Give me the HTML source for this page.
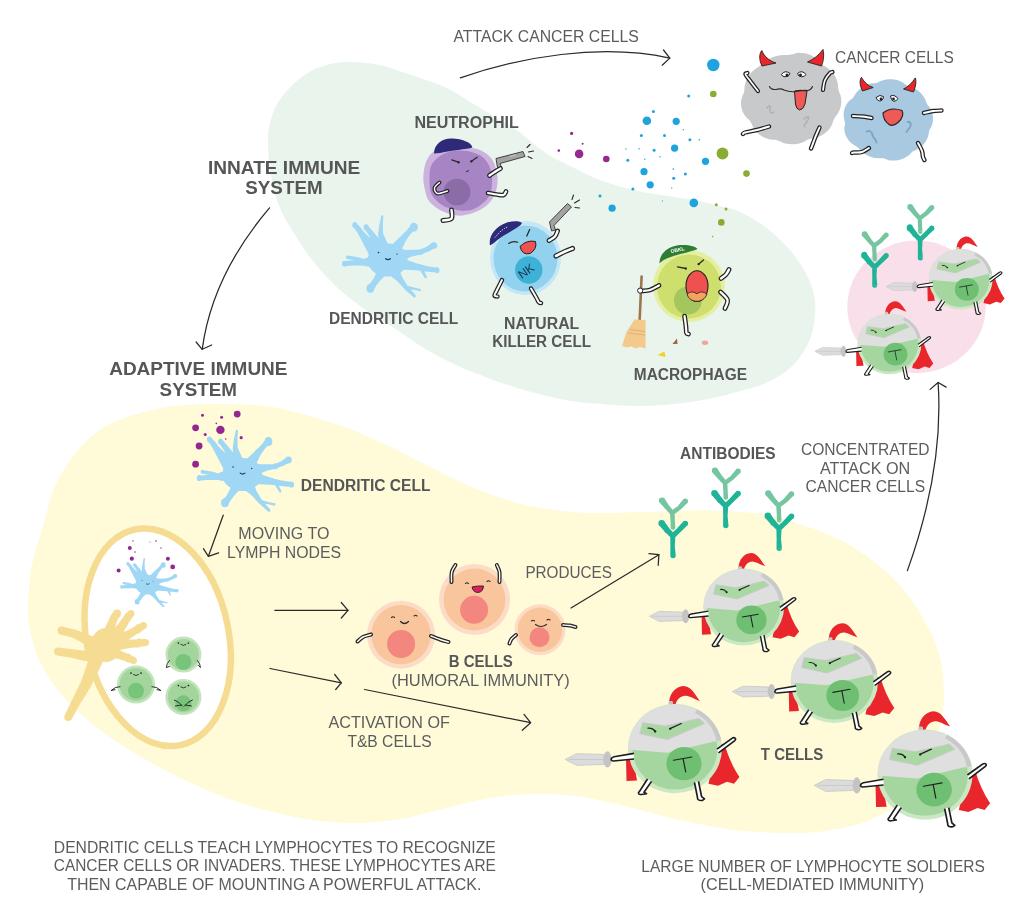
<!DOCTYPE html>
<html><head><meta charset="utf-8"><style>
html,body{margin:0;padding:0;background:#fff;}
svg{display:block;will-change:transform;}
text{font-family:"Liberation Sans",sans-serif;}
</style></head><body>
<svg width="1024" height="922" viewBox="0 0 1024 922">
<defs><g id="dend"><path d="M-6.2,-11.7L-14.2,-19.2L-22.3,-13L-17.4,-3.3ZM-14.2,-19.2L-22,-26.7L-27.4,-22.7L-22.3,-13ZM-21.9,-26.5L-26.8,-32.6L-31.2,-29.7L-27.5,-22.9ZM-27,-32.9L-30.9,-37.1L-34.6,-33.8L-31,-29.4ZM-18.8,-7.5a7,7 0 1,0 14,0a7,7 0 1,0 -14,0ZM-23.4,-16.1a5.1,5.1 0 1,0 10.2,0a5.1,5.1 0 1,0 -10.2,0ZM-28,-24.7a3.3,3.3 0 1,0 6.7,0a3.3,3.3 0 1,0 -6.7,0ZM-31.7,-31.1a2.7,2.7 0 1,0 5.4,0a2.7,2.7 0 1,0 -5.4,0ZM-35.2,-35.4a2.5,2.5 0 1,0 4.9,0a2.5,2.5 0 1,0 -4.9,0ZM-2.8,-14.4L-9.9,-23.1L-15.9,-19.8L-12.2,-9.2ZM-10,-23.4L-14.9,-29.4L-19.4,-26.4L-15.7,-19.6ZM-15.1,-29.6L-19.6,-34.8L-23.4,-31.8L-19.3,-26.2ZM-12.9,-11.8a5.4,5.4 0 1,0 10.7,0a5.4,5.4 0 1,0 -10.7,0ZM-16.3,-21.5a3.4,3.4 0 1,0 6.9,0a3.4,3.4 0 1,0 -6.9,0ZM-19.9,-27.9a2.7,2.7 0 1,0 5.4,0a2.7,2.7 0 1,0 -5.4,0ZM-24,-33.3a2.5,2.5 0 1,0 4.9,0a2.5,2.5 0 1,0 -4.9,0ZM0.4,-16.1L-4.6,-27.4L-9.4,-26.3L-9,-14ZM-4.5,-26.7L-4.8,-36.4L-8.1,-36.6L-9.4,-27ZM-4.8,-36.3L-4.2,-43.9L-6.5,-44.2L-8,-36.7ZM-9.1,-15a4.8,4.8 0 1,0 9.7,0a4.8,4.8 0 1,0 -9.7,0ZM-9.5,-26.8a2.5,2.5 0 1,0 4.9,0a2.5,2.5 0 1,0 -4.9,0ZM-8.1,-36.5a1.6,1.6 0 1,0 3.2,0a1.6,1.6 0 1,0 -3.2,0ZM-6.6,-44a1.2,1.2 0 1,0 2.4,0a1.2,1.2 0 1,0 -2.4,0ZM12.3,-7.3L18.7,-20.7L13.5,-24.4L2.7,-14.2ZM18.6,-20.5L24.4,-28.5L20.7,-31.7L13.7,-24.7ZM24.2,-28.2L28.8,-30.4L23.8,-36.2L20.9,-31.9ZM1.6,-10.7a5.9,5.9 0 1,0 11.8,0a5.9,5.9 0 1,0 -11.8,0ZM12.9,-22.6a3.2,3.2 0 1,0 6.4,0a3.2,3.2 0 1,0 -6.4,0ZM20.1,-30.1a2.5,2.5 0 1,0 4.9,0a2.5,2.5 0 1,0 -4.9,0ZM22.4,-33.3a3.9,3.9 0 1,0 7.7,0a3.9,3.9 0 1,0 -7.7,0ZM15,-0.1L25.3,-4.4L24.1,-10.7L12.9,-10.6ZM25.1,-4.3L33.6,-6.1L33,-11L24.3,-10.7ZM34.3,-6.3L41.7,-9.6L39.9,-14L32.3,-10.9ZM42,-9.8L47.9,-12.2L44.5,-17.9L39.6,-13.8ZM8.6,-5.4a5.4,5.4 0 1,0 10.7,0a5.4,5.4 0 1,0 -10.7,0ZM21.5,-7.5a3.2,3.2 0 1,0 6.4,0a3.2,3.2 0 1,0 -6.4,0ZM30.8,-8.6a2.5,2.5 0 1,0 4.9,0a2.5,2.5 0 1,0 -4.9,0ZM38.4,-11.8a2.4,2.4 0 1,0 4.7,0a2.4,2.4 0 1,0 -4.7,0ZM42.9,-15a3.3,3.3 0 1,0 6.7,0a3.3,3.3 0 1,0 -6.7,0ZM10.7,9L28.4,9.8L29.6,3.1L12.9,-2.6ZM28.4,9.8L40.3,11.2L41.3,6L29.6,3.1ZM40.5,11.3L49.1,12.1L49.7,7.2L41.1,5.9ZM5.9,3.2a5.9,5.9 0 1,0 11.8,0a5.9,5.9 0 1,0 -11.8,0ZM25.6,6.4a3.4,3.4 0 1,0 6.9,0a3.4,3.4 0 1,0 -6.9,0ZM38.1,8.6a2.7,2.7 0 1,0 5.4,0a2.7,2.7 0 1,0 -5.4,0ZM46.9,9.7a2.5,2.5 0 1,0 4.9,0a2.5,2.5 0 1,0 -4.9,0ZM31.8,8.9L37.1,17.2L39.2,16.1L34.8,7.2ZM31.6,8.1a1.7,1.7 0 1,0 3.4,0a1.7,1.7 0 1,0 -3.4,0ZM36.9,16.6a1.2,1.2 0 1,0 2.4,0a1.2,1.2 0 1,0 -2.4,0ZM0.2,13.5L9.2,20.2L14.4,16.3L10.5,5.8ZM9.2,20.2L16.5,28.1L20,25.6L14.4,16.3ZM16.7,28.4L25.8,36.5L27.9,34.4L19.8,25.3ZM-1.1,9.7a6.4,6.4 0 1,0 12.9,0a6.4,6.4 0 1,0 -12.9,0ZM8.6,18.3a3.2,3.2 0 1,0 6.4,0a3.2,3.2 0 1,0 -6.4,0ZM16.1,26.8a2.1,2.1 0 1,0 4.3,0a2.1,2.1 0 1,0 -4.3,0ZM25.3,35.4a1.5,1.5 0 1,0 3,0a1.5,1.5 0 1,0 -3,0ZM20.1,28.2L32,30.5L32.4,28.6L20.7,25.5ZM19,26.8a1.4,1.4 0 1,0 2.8,0a1.4,1.4 0 1,0 -2.8,0ZM31.3,29.5a1,1 0 1,0 1.9,0a1,1 0 1,0 -1.9,0ZM-8.7,6.5L-12.6,15.1L-6.8,19.2L0.1,12.8ZM-12.6,15.2L-16.5,22L-11.5,25.3L-6.7,19.1ZM-16.4,21.8L-20.3,25.6L-14.1,30.2L-11.6,25.4ZM-9.7,9.7a5.4,5.4 0 1,0 10.7,0a5.4,5.4 0 1,0 -10.7,0ZM-13.2,17.2a3.5,3.5 0 1,0 7.1,0a3.5,3.5 0 1,0 -7.1,0ZM-17,23.6a3,3 0 1,0 6,0a3,3 0 1,0 -6,0ZM-21.1,27.9a3.9,3.9 0 1,0 7.7,0a3.9,3.9 0 1,0 -7.7,0ZM-9.3,-4.3L-20.2,-2.1L-20.6,5.4L-10,8.6ZM-20.6,-2.1L-31.3,-0.5L-31,4.8L-20.2,5.4ZM-31.4,-0.5L-43.2,0.8L-42.7,5.7L-30.9,4.8ZM-16.1,2.1a6.4,6.4 0 1,0 12.9,0a6.4,6.4 0 1,0 -12.9,0ZM-24.2,1.6a3.8,3.8 0 1,0 7.5,0a3.8,3.8 0 1,0 -7.5,0ZM-33.8,2.1a2.7,2.7 0 1,0 5.4,0a2.7,2.7 0 1,0 -5.4,0ZM-45.4,3.2a2.5,2.5 0 1,0 4.9,0a2.5,2.5 0 1,0 -4.9,0ZM-19.8,-0.4L-30.6,-3.5L-31.7,0.2L-21,3.7ZM-30.8,-3.5L-39.4,-5L-40.1,-1.4L-31.5,0.3ZM-22.6,1.6a2.1,2.1 0 1,0 4.3,0a2.1,2.1 0 1,0 -4.3,0ZM-33.1,-1.6a1.9,1.9 0 1,0 3.9,0a1.9,1.9 0 1,0 -3.9,0ZM-41.6,-3.2a1.8,1.8 0 1,0 3.7,0a1.8,1.8 0 1,0 -3.7,0Z" fill="#9fd7f5"/><ellipse cx="0" cy="-0.5" rx="20" ry="16.5" fill="#9fd7f5"/><circle cx="-9.1" cy="-7.9" r="0.8" fill="#1d3b55"/><circle cx="9.5" cy="-6.4" r="0.7" fill="#1d3b55"/><path d="M-2,-1.8 q2.4,1.9 4.8,0" fill="none" stroke="#1d3b55" stroke-width="1.2" stroke-linecap="round"/></g><g id="tcell"><path d="M-49,8.8L-42.5,6.5L-38,33.5L-48.5,34Z" fill="#e8262b"/><path d="M42,-4L49.5,-5C53,8 58,20 64.5,30L59,37L52,35L43,39L33.5,37Z" fill="#e8262b"/><path d="M-6,-46C-6.5,-57 0,-65.5 8.5,-66C16,-66 20,-57 25,-50C19,-52 15,-55 11,-55.5C6,-56 2,-52 0.5,-46.5Z" fill="#e8262b"/><rect x="-6.5" y="-50" width="4.5" height="5.5" rx="1.5" fill="#c5c5c5"/><circle cx="0" cy="0" r="47" fill="#cbe7c4"/><circle cx="0" cy="0.5" r="42.5" fill="#a6d6a0"/><path d="M-46.9,1A47,47 0 0 1 46.2,-8.5L37.7,-7.2L-8,4.3Z" fill="#dfdfdf"/><path d="M22,-41.5A47,47 0 0 1 46.2,-8.5L41.5,-8A42.5,42.5 0 0 0 20,-37.5Z" fill="#c9c9c9"/><path d="M-32.3,-27.2L-9.5,-23.7L23.9,-31.6L29.2,-26.4L-7.7,-9.7L-35,-15.8Z" fill="#a9d8a3" stroke="#c9c9c9" stroke-width="1.2" stroke-linejoin="round"/><path d="M-27,-21.5Q-22.5,-22 -20,-18.5" fill="none" stroke="#222" stroke-width="1.3" stroke-linecap="round"/><circle cx="-19.8" cy="-18" r="1.2" fill="#222"/><path d="M-5,-21L6.3,-26.4" fill="none" stroke="#222" stroke-width="1.3" stroke-linecap="round"/><circle cx="-4.8" cy="-20.8" r="1.2" fill="#222"/><circle cx="9" cy="15.8" r="17.6" fill="#6ebf71"/><path d="M-1.6,12.3L16.9,8.8M8.1,10.6L10.7,24.6" fill="none" stroke="#222" stroke-width="1.2" stroke-linecap="round"/><path d="M-109.7,11.4L-98.3,5.3L-71,6.2L-71,16.7L-98.3,17.6Z" fill="#dcdcdc" stroke="#c4c4c4" stroke-width="0.8" stroke-linejoin="round"/><path d="M-106,11.4L-71,11.4" stroke="#c4c4c4" stroke-width="0.8"/><ellipse cx="-67.5" cy="11.4" rx="4" ry="8.5" fill="#c4c4c4"/><path d="M-41,5L-61,8.6C-64.5,9.5 -65,13 -61.5,13L-41,11" fill="#fff" stroke="#1e1e1e" stroke-width="1.7" stroke-linejoin="round"/><path d="M42,0.5L57,-10.8C59.5,-12.5 61.8,-10.5 59.8,-8.5L43.5,4.5" fill="#fff" stroke="#1e1e1e" stroke-width="1.7" stroke-linejoin="round"/><path d="M-27.5,32L-35.5,45C-37.5,46.5 -36.5,48.8 -33.5,48.3L-28.5,47.5L-31,46L-23.5,34.5" fill="#fff" stroke="#1e1e1e" stroke-width="1.7" stroke-linejoin="round"/><path d="M19.5,35.5L22.5,51.5C22,53.5 24,55 27.5,54.5L29.5,53L26.6,50.5L23.5,34.5" fill="#fff" stroke="#1e1e1e" stroke-width="1.7" stroke-linejoin="round"/></g></defs>
<rect width="1024" height="922" fill="#ffffff"/>
<path d="M350,62C357.8,62.2 371.3,63.3 380,65C388.7,66.7 394.8,69.7 402,72C409.2,74.3 416.7,76.8 423,79C429.3,81.2 434.5,82.7 440,85C445.5,87.3 450.8,90.1 456,93C461.2,95.9 465.8,99.3 471,102.5C476.2,105.7 481.8,108.8 487,112C492.2,115.2 497.3,118.3 502.5,121.5C507.7,124.7 512.8,127.2 518,131C523.2,134.8 528.8,139.9 534,144C539.2,148.1 544.2,152.2 549.4,155.5C554.6,158.8 559.7,160.8 565,163.5C570.3,166.2 575.8,169 581,171.5C586.2,174 589.8,176.1 596,178.5C602.2,180.9 611.7,184.1 618,186C624.3,187.9 628.8,188.8 634,190C639.2,191.2 644.2,192.4 649.4,193.3C654.6,194.2 659.8,194.8 665,195.6C670.2,196.4 675.3,197.2 680.6,198C685.9,198.8 690.1,199.1 697,200.5C703.9,201.9 714.8,204.6 722,206.5C729.2,208.4 733,208.8 740,212C747,215.2 756,220.1 764,226C772,231.9 781.7,240.9 788,247.7C794.3,254.5 798.1,260.4 802,266.8C805.9,273.2 809.4,279.6 811.6,286C813.8,292.4 814.8,298.7 815.2,305C815.6,311.3 815,318 814,324C813,330 811.6,335.4 809.2,341C806.8,346.6 803.7,352.3 799.7,357.5C795.7,362.7 791.2,367.6 785.3,372C779.3,376.4 771.5,380.5 764,383.7C756.5,386.9 748.5,388.6 740,391C731.5,393.4 722.5,396 713,398C703.5,400 694.8,401.7 683,403C671.2,404.3 655.7,405.8 642,406C628.3,406.2 614.7,405.2 601,404C587.3,402.8 575,402 560,399C545,396 525.2,390.3 511,386C496.8,381.7 484.2,376.5 475,373C465.8,369.5 462.5,368 456,365C449.5,362 442.6,358.6 436,355C429.4,351.4 423.2,347.7 416.7,343.5C410.2,339.3 403.5,334.2 397,330C390.5,325.8 384.2,322.2 377.7,318C371.2,313.8 364.3,309.2 358,304.5C351.7,299.8 345.7,295.1 340,290C334.3,284.9 329.2,279.7 324,274C318.8,268.3 313.5,262 309,256C304.5,250 300.8,244 297,238C293.2,232 289.2,225.8 286,220C282.8,214.2 280.2,208.8 278,203C275.8,197.2 274.4,191 273,185C271.6,179 270.3,173.2 269.5,167C268.7,160.8 268.2,154.2 268,148C267.8,141.8 267.9,135 268.5,130C269.1,125 270.2,122 271.5,118C272.8,114 273.8,110.2 276,106C278.2,101.8 281.3,97.3 285,93C288.7,88.7 293,84 298,80C303,76 309.2,71.8 315,69C320.8,66.2 327.2,64.7 333,63.5C338.8,62.3 342.2,61.8 350,62Z" fill="#e9f4ec"/>
<path d="M156,409C175.5,404.5 195.5,404.3 215,404C234.5,403.7 253.5,403.8 273,407C292.5,410.2 317.2,418.5 332,423C346.8,427.5 351.5,429.7 362,434C372.5,438.3 383.7,443.5 395,449C406.3,454.5 418.3,461.2 430,467C441.7,472.8 453.2,478.8 465,484C476.8,489.2 489.2,494.2 501,498C512.8,501.8 524.3,504.7 536,507C547.7,509.3 559.3,511 571,512C582.7,513 594.3,513 606,513C617.7,513 629.3,512.3 641,512C652.7,511.7 664.2,511.2 676,511C687.8,510.8 697.5,510 712,510.5C726.5,511 750,512.2 763,514C776,515.8 780.5,518.2 790,521C799.5,523.8 810.7,527.3 820,531C829.3,534.7 837.3,538.2 846,543C854.7,547.8 864.2,554.2 872,560C879.8,565.8 886.5,571.5 893,578C899.5,584.5 905.8,592 911,599C916.2,606 920.1,613.1 924,620C927.9,626.9 931.7,633.7 934.5,640.5C937.3,647.3 939.5,654.1 941,661C942.5,667.9 943.2,675 943.6,682C944,689 944,696.5 943.6,703C943.2,709.5 942.1,714.8 941,721C939.9,727.2 939,733.5 937,740C935,746.5 932.2,753 929,760C925.8,767 921.8,775.8 918,782C914.2,788.2 909.8,792.8 906,797C902.2,801.2 900,803.7 895,807C890,810.3 882.5,814 876,817C869.5,820 865.8,822.5 856,825C846.2,827.5 830,830.7 817,832C804,833.3 791,833.2 778,833C765,832.8 750,831.6 739,830.5C728,829.4 722,828.2 712,826.5C702,824.8 690,822.5 679,820C668,817.5 657.2,814.3 646,811.5C634.8,808.7 623.2,805.5 612,803C600.8,800.5 590,798 579,796.5C568,795 557,794.2 546,794C535,793.8 524,794 513,795C502,796 491.2,797.8 480,800C468.8,802.2 457.2,805.2 446,808C434.8,810.8 423.2,814.3 413,816.5C402.8,818.7 395.2,819.9 385,821C374.8,822.1 364.2,823.2 352,823C339.8,822.8 325.2,821.8 312,820C298.8,818.2 286,815.2 273,812C260,808.8 247,805 234,800.5C221,796 208,790.8 195,785C182,779.2 169,772.7 156,765.5C143,758.3 128.7,749.8 117,742C105.3,734.2 95.8,727 86,718.5C76.2,710 66.3,700.8 58.5,691C50.7,681.2 43.8,670.2 39,660C34.2,649.8 31.8,639.2 30,630C28.2,620.8 27.7,615.8 28,605C28.3,594.2 29.7,577.5 32,565C34.3,552.5 37.5,544.5 42,530C46.5,515.5 49.7,494.5 59,478C68.3,461.5 81.8,442.5 98,431C114.2,419.5 136.5,413.5 156,409Z" fill="#fffbd8"/>
<ellipse cx="916.5" cy="306.8" rx="69.2" ry="66.2" fill="#f9dfe9"/>
<ellipse cx="157.7" cy="637.3" rx="70.9" ry="110.2" fill="#ffffff" stroke="#f6dc92" stroke-width="6.5" transform="rotate(-12 157.7 637.3)"/>
<path d="M89.5,657.3L80.9,681.9L91.1,686.1L102.5,662.7ZM81.2,681.3L72.1,699.8L79.9,704.2L90.8,686.7ZM72,699.9L64.7,715.2L71.9,718.8L80,704.1ZM89,660a7,7 0 1,0 14,0a7,7 0 1,0 -14,0ZM80.5,684a5.5,5.5 0 1,0 11,0a5.5,5.5 0 1,0 -11,0ZM71.5,702a4.5,4.5 0 1,0 9,0a4.5,4.5 0 1,0 -9,0ZM64.3,717a4,4 0 1,0 8,0a4,4 0 1,0 -8,0ZM102.6,638.5L91.9,636.1L88.1,645.9L97.4,651.5ZM92.2,636.2L76.8,630.1L73.2,637.9L87.8,645.8ZM76.1,629.9L62.5,626.6L60.5,634.4L73.9,638.1ZM93,645a7,7 0 1,0 14,0a7,7 0 1,0 -14,0ZM84.8,641a5.2,5.2 0 1,0 10.5,0a5.2,5.2 0 1,0 -10.5,0ZM70.8,634a4.2,4.2 0 1,0 8.5,0a4.2,4.2 0 1,0 -8.5,0ZM57.5,630.5a4,4 0 1,0 8,0a4,4 0 1,0 -8,0ZM94.8,647.6L84.1,651.1L85.9,660.9L97.2,660.4ZM85.9,651.1L72.8,649.3L71.2,657.7L84.1,660.9ZM72.6,649.3L58.6,647.5L57.4,655.5L71.4,657.7ZM89.5,654a6.5,6.5 0 1,0 13,0a6.5,6.5 0 1,0 -13,0ZM80,656a5,5 0 1,0 10,0a5,5 0 1,0 -10,0ZM67.8,653.5a4.2,4.2 0 1,0 8.5,0a4.2,4.2 0 1,0 -8.5,0ZM54,651.5a4,4 0 1,0 8,0a4,4 0 1,0 -8,0ZM111.7,641.9L114.3,629.4L105.7,626.6L100.3,638.1ZM114.2,629.7L117.7,619.5L110.3,616.5L105.8,626.3ZM117.3,620.2L120.3,615.7L113.7,611.3L110.7,615.8ZM100,640a6,6 0 1,0 12,0a6,6 0 1,0 -12,0ZM105.5,628a4.5,4.5 0 1,0 9,0a4.5,4.5 0 1,0 -9,0ZM110,618a4,4 0 1,0 8,0a4,4 0 1,0 -8,0ZM113,613.5a4,4 0 1,0 8,0a4,4 0 1,0 -8,0ZM116.9,643.5L125.5,628.5L118.5,623.5L107.1,636.5ZM125.5,628.4L131.1,619.1L124.9,614.9L118.5,623.6ZM130.8,619.4L133.7,615.8L128.3,611.2L125.2,614.6ZM106,640a6,6 0 1,0 12,0a6,6 0 1,0 -12,0ZM117.8,626a4.2,4.2 0 1,0 8.5,0a4.2,4.2 0 1,0 -8.5,0ZM124.2,617a3.8,3.8 0 1,0 7.5,0a3.8,3.8 0 1,0 -7.5,0ZM127.5,613.5a3.5,3.5 0 1,0 7,0a3.5,3.5 0 1,0 -7,0ZM116.4,646.5L129.7,638.9L126.3,631.1L111.6,635.5ZM130.2,638.6L139.9,632.2L136.1,625.8L125.8,631.4ZM140,632.2L145.4,628.5L141.6,622.5L136,625.8ZM108,641a6,6 0 1,0 12,0a6,6 0 1,0 -12,0ZM123.8,635a4.2,4.2 0 1,0 8.5,0a4.2,4.2 0 1,0 -8.5,0ZM134.2,629a3.8,3.8 0 1,0 7.5,0a3.8,3.8 0 1,0 -7.5,0ZM140,625.5a3.5,3.5 0 1,0 7,0a3.5,3.5 0 1,0 -7,0ZM114.4,651L128.3,648.2L127.7,639.8L113.6,639ZM128.4,648.2L139.3,646.7L138.7,639.3L127.6,639.8ZM139.3,646.7L145.8,646L145.2,639L138.7,639.3ZM108,645a6,6 0 1,0 12,0a6,6 0 1,0 -12,0ZM123.8,644a4.2,4.2 0 1,0 8.5,0a4.2,4.2 0 1,0 -8.5,0ZM135.2,643a3.8,3.8 0 1,0 7.5,0a3.8,3.8 0 1,0 -7.5,0ZM142,642.5a3.5,3.5 0 1,0 7,0a3.5,3.5 0 1,0 -7,0ZM107.8,656.6L118.4,658.9L121.6,651.1L112.2,645.4ZM118.5,659L126.7,661.5L129.3,654.5L121.5,651ZM126.4,661.4L132.1,663.7L134.9,657.3L129.6,654.6ZM104,651a6,6 0 1,0 12,0a6,6 0 1,0 -12,0ZM115.8,655a4.2,4.2 0 1,0 8.5,0a4.2,4.2 0 1,0 -8.5,0ZM124.2,658a3.8,3.8 0 1,0 7.5,0a3.8,3.8 0 1,0 -7.5,0ZM130,660.5a3.5,3.5 0 1,0 7,0a3.5,3.5 0 1,0 -7,0Z" fill="#f6dc92"/>
<ellipse cx="106" cy="645" rx="15" ry="17" fill="#f6dc92"/>
<use href="#dend" transform="translate(147.5,585) scale(0.6)"/>
<circle cx="129.8" cy="547.9" r="2" fill="#93278f"/>
<circle cx="131.8" cy="558.7" r="2.1" fill="#93278f"/>
<circle cx="118.6" cy="570.4" r="2" fill="#93278f"/>
<circle cx="167.9" cy="558.7" r="2" fill="#93278f"/>
<circle cx="172.7" cy="566.9" r="2.4" fill="#93278f"/>
<circle cx="135" cy="552" r="0.8" fill="#93278f"/>
<circle cx="156" cy="541" r="0.8" fill="#93278f"/>
<circle cx="133" cy="541" r="0.7" fill="#93278f"/>
<circle cx="161" cy="548" r="0.7" fill="#93278f"/>
<circle cx="150" cy="542" r="0.5" fill="#93278f"/>
<circle cx="183.4" cy="654.5" r="18" fill="#c3e3bc"/>
<circle cx="183.4" cy="654.5" r="15.5" fill="#a3d59d"/>
<circle cx="183.4" cy="662" r="8" fill="#77c47a"/>
<circle cx="178.4" cy="643.0" r="0.85" fill="#222"/><circle cx="188.4" cy="643.0" r="0.85" fill="#222"/>
<path d="M180.9,644.5 q2.5,2 5,0" fill="none" stroke="#2b2b2b" stroke-width="0.9" stroke-linecap="round" stroke-linejoin="round"/>
<path d="M169.4,660.5 q-3,3 -3,7 l3,-1" fill="none" stroke="#2b2b2b" stroke-width="1" stroke-linecap="round" stroke-linejoin="round"/>
<path d="M197.4,660.5 q3,3 3,7 l-2,-2" fill="none" stroke="#2b2b2b" stroke-width="1" stroke-linecap="round" stroke-linejoin="round"/>
<circle cx="136" cy="684.6" r="19" fill="#c3e3bc"/>
<circle cx="136" cy="684.6" r="16.5" fill="#a3d59d"/>
<circle cx="136" cy="690.8" r="8" fill="#77c47a"/>
<circle cx="131" cy="673.1" r="0.85" fill="#222"/><circle cx="141" cy="673.1" r="0.85" fill="#222"/>
<path d="M133.5,674.6 q2.5,2 5,0" fill="none" stroke="#2b2b2b" stroke-width="0.9" stroke-linecap="round" stroke-linejoin="round"/>
<path d="M120,686.6 q-5,0 -9,4 l4,-1" fill="none" stroke="#2b2b2b" stroke-width="1" stroke-linecap="round" stroke-linejoin="round"/>
<path d="M152,686.6 q5,0 9,4 l-4,-1" fill="none" stroke="#2b2b2b" stroke-width="1" stroke-linecap="round" stroke-linejoin="round"/>
<circle cx="183.4" cy="697" r="18" fill="#c3e3bc"/>
<circle cx="183.4" cy="697" r="15.5" fill="#a3d59d"/>
<circle cx="183.4" cy="703.3" r="8" fill="#77c47a"/>
<circle cx="178.4" cy="685.5" r="0.85" fill="#222"/><circle cx="188.4" cy="685.5" r="0.85" fill="#222"/>
<path d="M180.9,687 q2.5,2 5,0" fill="none" stroke="#2b2b2b" stroke-width="0.9" stroke-linecap="round" stroke-linejoin="round"/>
<path d="M174.4,700 q5,2 8,6 M192.4,700 q-5,2 -8,6 M175.4,706 l6,-1 M191.4,706 l-6,-1" fill="none" stroke="#2b2b2b" stroke-width="1" stroke-linecap="round" stroke-linejoin="round"/>
<use href="#dend" transform="translate(387.6,260.5)"/>
<use href="#dend" transform="translate(242.2,474.9)"/>
<circle cx="237.2" cy="414.1" r="3.4" fill="#93278f"/>
<circle cx="220.4" cy="429.9" r="4.2" fill="#93278f"/>
<circle cx="195.6" cy="427.8" r="3.4" fill="#93278f"/>
<circle cx="199.1" cy="446" r="3.4" fill="#93278f"/>
<circle cx="195.6" cy="464.2" r="3.4" fill="#93278f"/>
<circle cx="202.5" cy="415.2" r="1.5" fill="#93278f"/>
<circle cx="221.6" cy="417.2" r="1.5" fill="#93278f"/>
<circle cx="205.2" cy="434.6" r="1.5" fill="#93278f"/>
<circle cx="241.2" cy="437.7" r="1.6" fill="#93278f"/>
<circle cx="216.3" cy="423.4" r="0.8" fill="#93278f"/>
<circle cx="225.7" cy="439" r="0.8" fill="#93278f"/>
<circle cx="713.3" cy="65" r="6.2" fill="#1ea3dc"/>
<circle cx="646.9" cy="120.7" r="4.3" fill="#1ea3dc"/>
<circle cx="676.2" cy="121.3" r="3.6" fill="#1ea3dc"/>
<circle cx="674.6" cy="148.2" r="3.6" fill="#1ea3dc"/>
<circle cx="644" cy="171.7" r="3.6" fill="#1ea3dc"/>
<circle cx="650.2" cy="184.8" r="3.6" fill="#1ea3dc"/>
<circle cx="705.5" cy="161.3" r="3.6" fill="#1ea3dc"/>
<circle cx="693.8" cy="202.9" r="4.3" fill="#1ea3dc"/>
<circle cx="612.1" cy="208.2" r="3.6" fill="#1ea3dc"/>
<circle cx="653.4" cy="111.5" r="1.5" fill="#1ea3dc"/>
<circle cx="641.4" cy="135.5" r="1.5" fill="#1ea3dc"/>
<circle cx="664.5" cy="135.4" r="1.5" fill="#1ea3dc"/>
<circle cx="689.9" cy="139.8" r="1.5" fill="#1ea3dc"/>
<circle cx="654.1" cy="150.2" r="1.5" fill="#1ea3dc"/>
<circle cx="627.8" cy="160.2" r="1.5" fill="#1ea3dc"/>
<circle cx="685.4" cy="174" r="1.5" fill="#1ea3dc"/>
<circle cx="673.7" cy="178.3" r="1.5" fill="#1ea3dc"/>
<circle cx="632.9" cy="189" r="1.5" fill="#1ea3dc"/>
<circle cx="600" cy="196.1" r="1.5" fill="#1ea3dc"/>
<circle cx="688.7" cy="95.9" r="1.5" fill="#1ea3dc"/>
<circle cx="699.3" cy="139.8" r="0.8" fill="#1ea3dc"/>
<circle cx="683.4" cy="129.7" r="0.7" fill="#1ea3dc"/>
<circle cx="673.3" cy="169.1" r="0.8" fill="#1ea3dc"/>
<circle cx="671.7" cy="187.9" r="0.7" fill="#1ea3dc"/>
<circle cx="660" cy="156.8" r="0.7" fill="#1ea3dc"/>
<circle cx="644.8" cy="159.2" r="0.7" fill="#1ea3dc"/>
<circle cx="639.1" cy="148.8" r="0.7" fill="#1ea3dc"/>
<circle cx="626" cy="149" r="0.7" fill="#1ea3dc"/>
<circle cx="662.5" cy="200.8" r="0.6" fill="#1ea3dc"/>
<circle cx="713.3" cy="94" r="3.3" fill="#8bac33"/>
<circle cx="722.5" cy="153.5" r="5.9" fill="#8bac33"/>
<circle cx="746.5" cy="173.6" r="3.3" fill="#8bac33"/>
<circle cx="721.3" cy="222.4" r="3.3" fill="#8bac33"/>
<circle cx="716.3" cy="204.7" r="1.5" fill="#8bac33"/>
<circle cx="726" cy="209" r="1.5" fill="#8bac33"/>
<circle cx="712.6" cy="236.6" r="0.8" fill="#8bac33"/>
<circle cx="579.1" cy="153.9" r="4.3" fill="#962a8e"/>
<circle cx="606.3" cy="159" r="3.3" fill="#962a8e"/>
<circle cx="571.6" cy="133.4" r="1.6" fill="#962a8e"/>
<circle cx="582.6" cy="143.8" r="1" fill="#962a8e"/>
<circle cx="558.8" cy="150.6" r="1.3" fill="#962a8e"/>
<path d="M434,151.5C430,153.8 427.8,157.8 426,162C424.2,166.2 423.5,172.3 423.3,177C423.1,181.7 424.1,186 425,190C425.9,194 426.5,197.7 429,201C431.5,204.3 435.4,207.6 440,210C444.6,212.4 451.4,215.1 456.9,215.6C462.4,216.1 468.1,214.6 473,213C477.9,211.4 482.5,208.8 486,206C489.5,203.2 492.1,199.8 494,196C495.9,192.2 497.2,187.5 497.5,183C497.8,178.5 497.1,173.2 496,169C494.9,164.8 493.5,161.1 491,158C488.5,154.9 484.8,152.2 481,150.5C477.2,148.8 473.2,147.9 468,147.5C462.8,147.1 455.7,147.3 450,148C444.3,148.7 438,149.2 434,151.5Z" fill="#ccb3dd"/>
<path d="M440,156C436.3,158.5 432.8,162 431,166C429.2,170 429.5,175.5 429.5,180C429.5,184.5 429.6,189.3 431,193C432.4,196.7 435.3,199.6 438,202C440.7,204.4 443.3,206.1 447,207.5C450.7,208.9 455.8,210.1 460,210.5C464.2,210.9 468.2,211.1 472,209.8C475.8,208.6 480,205.5 483,203C486,200.5 488.4,198 489.9,194.7C491.4,191.4 491.8,186.8 492,183C492.2,179.2 492,175.5 491.2,172C490.4,168.5 488.9,164.8 487,162C485.1,159.2 483.3,157.1 480,155.3C476.7,153.5 471.5,151.7 467,151C462.5,150.3 457.5,150.2 453,151C448.5,151.8 443.7,153.5 440,156Z" fill="#a784c4"/>
<circle cx="457" cy="192" r="13.3" fill="#8b6ca6"/>
<path d="M434,153.5C434,144 443,138 452,138.5C462,139 471,142 472.5,147.5C466,149.5 452,150 440,153Z" fill="#2c2a79"/>
<path d="M496,158.5L523,151.5L525,156.5L500,163.5L502,169L498,170.5Z" fill="#a3a3a3" stroke="#333" stroke-width="0.9" stroke-linejoin="round"/>
<path d="M510,156.5L516,155" stroke="#bbb" stroke-width="1.5"/>
<path d="M527,147.5l3,-3 M528.5,152l5,-1 M528,156.5l4,2" fill="none" stroke="#2b2b2b" stroke-width="1.1" stroke-linecap="round" stroke-linejoin="round"/>
<path d="M451.8,159.8L459,162.3" fill="none" stroke="#2b2b2b" stroke-width="1.3" stroke-linecap="round" stroke-linejoin="round"/>
<circle cx="458.6" cy="162.4" r="1.1" fill="#222"/>
<path d="M471,161.5L477.2,157.2" fill="none" stroke="#2b2b2b" stroke-width="1.3" stroke-linecap="round" stroke-linejoin="round"/>
<circle cx="471.4" cy="161.4" r="1.1" fill="#222"/>
<path d="M466.5,171.6l2,-0.8" fill="none" stroke="#2b2b2b" stroke-width="1" stroke-linecap="round" stroke-linejoin="round"/>
<path d="M439.5,182.5C438.7,183.4 434.8,186.2 434.5,188C434.2,189.8 435.3,193 437.5,193.5C439.7,194 445.8,191.4 447.5,191" fill="none" stroke="#222" stroke-width="3.9" stroke-linecap="round" stroke-linejoin="round"/><path d="M439.5,182.5C438.7,183.4 434.8,186.2 434.5,188C434.2,189.8 435.3,193 437.5,193.5C439.7,194 445.8,191.4 447.5,191" fill="none" stroke="#fff" stroke-width="1.4" stroke-linecap="round" stroke-linejoin="round"/>
<path d="M489.5,175.5C490.5,174.8 493.7,172.7 495.5,171.5C497.3,170.3 499.7,169 500.5,168.5" fill="none" stroke="#222" stroke-width="4.8" stroke-linecap="round" stroke-linejoin="round"/><path d="M489.5,175.5C490.5,174.8 493.7,172.7 495.5,171.5C497.3,170.3 499.7,169 500.5,168.5" fill="none" stroke="#fff" stroke-width="2.3" stroke-linecap="round" stroke-linejoin="round"/>
<path d="M488,193C489.5,193.2 494.4,194.2 497,194.5C499.6,194.8 502,195.5 503.5,195C505,194.5 505.6,192.1 506,191.5" fill="none" stroke="#222" stroke-width="4.7" stroke-linecap="round" stroke-linejoin="round"/><path d="M488,193C489.5,193.2 494.4,194.2 497,194.5C499.6,194.8 502,195.5 503.5,195C505,194.5 505.6,192.1 506,191.5" fill="none" stroke="#fff" stroke-width="2.2" stroke-linecap="round" stroke-linejoin="round"/>
<path d="M451.5,210C451.5,211.4 452.9,216.8 451.5,218.5C450.1,220.2 444.4,220.2 443,220.5" fill="none" stroke="#222" stroke-width="4.9" stroke-linecap="round" stroke-linejoin="round"/><path d="M451.5,210C451.5,211.4 452.9,216.8 451.5,218.5C450.1,220.2 444.4,220.2 443,220.5" fill="none" stroke="#fff" stroke-width="2.4" stroke-linecap="round" stroke-linejoin="round"/>
<ellipse cx="525.5" cy="258" rx="35.5" ry="37" fill="#c5e6f5"/>
<ellipse cx="525.5" cy="258.5" rx="32" ry="33" fill="#93d2ef"/>
<circle cx="528.8" cy="270" r="13.7" fill="#3eb2d6"/>
<text x="0" y="0" font-size="12" fill="#1b3350" text-anchor="middle" transform="translate(528.5,274.5) rotate(-35)" font-family="Liberation Sans">NK</text>
<path d="M490,245.5C488,236 496,226 507,222.5C514,220.5 520,221 522,223C520,227 511,231 503,236C497,240 493,244 490,245.5Z" fill="#2c2a79"/>
<path d="M495,237.5l3,-3.5 l3,-3 l3.5,-2.5 l3.5,-2" stroke="#fff" stroke-width="0.9" stroke-dasharray="1.2,1.3" fill="none"/>
<path d="M508.6,243.4Q513,240.5 517.7,242.2" fill="none" stroke="#2b2b2b" stroke-width="1.2" stroke-linecap="round" stroke-linejoin="round"/>
<path d="M526.8,236L529.7,229.5" fill="none" stroke="#2b2b2b" stroke-width="1.3" stroke-linecap="round" stroke-linejoin="round"/>
<path d="M520,246.5Q527,239.5 535.5,241.5Q537.5,249 530,253.5Q522,255.5 520,246.5Z" fill="#ef5050" stroke="#222" stroke-width="1"/>
<path d="M549.5,222L567.5,203.5L571.5,207L554,225.5L555.5,230L551.5,231Z" fill="#a3a3a3" stroke="#333" stroke-width="0.9" stroke-linejoin="round"/>
<path d="M572,199.5l1.5,-4.5 M574.5,203l5,-3 M575,207.5l4.5,0.5" fill="none" stroke="#2b2b2b" stroke-width="1.1" stroke-linecap="round" stroke-linejoin="round"/>
<path d="M549,240.5C550,239.8 553.6,238.1 555,236.5C556.4,234.9 557.1,231.9 557.5,231" fill="none" stroke="#222" stroke-width="4.8" stroke-linecap="round" stroke-linejoin="round"/><path d="M549,240.5C550,239.8 553.6,238.1 555,236.5C556.4,234.9 557.1,231.9 557.5,231" fill="none" stroke="#fff" stroke-width="2.3" stroke-linecap="round" stroke-linejoin="round"/>
<path d="M556,256C557.5,255.2 562.2,252.8 565,251.5C567.8,250.2 571.2,249 572.5,248.5" fill="none" stroke="#222" stroke-width="5.1" stroke-linecap="round" stroke-linejoin="round"/><path d="M556,256C557.5,255.2 562.2,252.8 565,251.5C567.8,250.2 571.2,249 572.5,248.5" fill="none" stroke="#fff" stroke-width="2.6" stroke-linecap="round" stroke-linejoin="round"/>
<path d="M502,280C501.2,281.7 498.2,287.4 497,290C495.8,292.6 494.4,294.4 494.5,295.5C494.6,296.6 497,296.3 497.5,296.5" fill="none" stroke="#222" stroke-width="4.4" stroke-linecap="round" stroke-linejoin="round"/><path d="M502,280C501.2,281.7 498.2,287.4 497,290C495.8,292.6 494.4,294.4 494.5,295.5C494.6,296.6 497,296.3 497.5,296.5" fill="none" stroke="#fff" stroke-width="1.9" stroke-linecap="round" stroke-linejoin="round"/>
<path d="M531,288.5C531.8,289.9 534.7,294.7 536,297C537.3,299.3 538.2,301.5 539,302.5C539.8,303.5 540.7,302.9 541,303" fill="none" stroke="#222" stroke-width="4.4" stroke-linecap="round" stroke-linejoin="round"/><path d="M531,288.5C531.8,289.9 534.7,294.7 536,297C537.3,299.3 538.2,301.5 539,302.5C539.8,303.5 540.7,302.9 541,303" fill="none" stroke="#fff" stroke-width="1.9" stroke-linecap="round" stroke-linejoin="round"/>
<circle cx="689" cy="286" r="36" fill="#e5efa2"/>
<circle cx="689" cy="286.5" r="32" fill="#cedf6e"/>
<circle cx="688" cy="300.5" r="14" fill="#a5c55e"/>
<path d="M659.5,263.5C659,254 668,246 680,245C689,244.5 696,246.5 697.5,249C691,252 678,254 668,258C663,260 661,262 659.5,263.5Z" fill="#2f7d34"/>
<text x="0" y="0" font-size="5" font-weight="bold" fill="#fff" transform="translate(671,253) rotate(-12)" font-family="Liberation Sans">OBKL</text>
<ellipse cx="697" cy="286" rx="11" ry="15.3" fill="#ef5050" stroke="#222" stroke-width="1.1"/>
<path d="M687.2,294.5C690,290.5 695,292 697,294C699,291.5 704,291 706.8,294.5C705,299 701,301.3 697,301.3C692.5,301.3 688.5,299 687.2,294.5Z" fill="#f4a35f" stroke="#222" stroke-width="0.8"/>
<path d="M677.5,266.8L686,268.5" fill="none" stroke="#2b2b2b" stroke-width="1.3" stroke-linecap="round" stroke-linejoin="round"/>
<circle cx="685.8" cy="268.6" r="1.1" fill="#222"/>
<path d="M698.5,264.2L703.5,260" fill="none" stroke="#2b2b2b" stroke-width="1.3" stroke-linecap="round" stroke-linejoin="round"/>
<circle cx="698.6" cy="264.2" r="1.1" fill="#222"/>
<path d="M641.6,276.5L639.6,321" fill="none" stroke="#9b7650" stroke-width="2.6" stroke-linecap="round" stroke-linejoin="round"/>
<path d="M634.5,319.5L645.5,320L645.5,348.5L640,347L636,348.5L631,346.5L627,347.5L622,346L626.5,332Z" fill="#f3c98c"/>
<path d="M630,329.5L645,331.5 M628.5,333L645,335" fill="none" stroke="#d9a466" stroke-width="0.7" stroke-linecap="round" stroke-linejoin="round"/>
<path d="M659,285.5C657.5,286.2 652.8,289.1 650,290C647.2,290.9 643.3,290.8 642,291" fill="none" stroke="#222" stroke-width="4.7" stroke-linecap="round" stroke-linejoin="round"/><path d="M659,285.5C657.5,286.2 652.8,289.1 650,290C647.2,290.9 643.3,290.8 642,291" fill="none" stroke="#fff" stroke-width="2.2" stroke-linecap="round" stroke-linejoin="round"/>
<circle cx="640.2" cy="290.6" r="2.6" fill="#fff" stroke="#222" stroke-width="1"/>
<path d="M721,278.5C721.8,277.8 724.7,276 726,274.5C727.3,273 728.5,270.3 729,269.5" fill="none" stroke="#222" stroke-width="4.9" stroke-linecap="round" stroke-linejoin="round"/><path d="M721,278.5C721.8,277.8 724.7,276 726,274.5C727.3,273 728.5,270.3 729,269.5" fill="none" stroke="#fff" stroke-width="2.4" stroke-linecap="round" stroke-linejoin="round"/>
<path d="M720.5,292C721.7,293.3 726.8,297.2 727.5,300C728.2,302.8 725.4,307.1 725,308.5" fill="none" stroke="#222" stroke-width="4.8" stroke-linecap="round" stroke-linejoin="round"/><path d="M720.5,292C721.7,293.3 726.8,297.2 727.5,300C728.2,302.8 725.4,307.1 725,308.5" fill="none" stroke="#fff" stroke-width="2.3" stroke-linecap="round" stroke-linejoin="round"/>
<path d="M684.5,316C684.8,317.8 685.7,324.2 686,327C686.3,329.8 686.1,331.8 686.5,333C686.9,334.2 688.2,333.8 688.5,334" fill="none" stroke="#222" stroke-width="4.7" stroke-linecap="round" stroke-linejoin="round"/><path d="M684.5,316C684.8,317.8 685.7,324.2 686,327C686.3,329.8 686.1,331.8 686.5,333C686.9,334.2 688.2,333.8 688.5,334" fill="none" stroke="#fff" stroke-width="2.2" stroke-linecap="round" stroke-linejoin="round"/>
<path d="M672.5,344L677,338.5L677.5,344Z" fill="#9a6a3c"/>
<ellipse cx="705" cy="342.8" rx="3.2" ry="2.2" fill="#f0a79b"/>
<path d="M657.5,355L664.5,351.5L665.5,357Z" fill="#f7cf1e"/>
<path d="M841.1,98.5C841.3,99.8 841.3,101.1 841.3,102.5C841.2,103.8 841,105.1 840.7,106.4C840.4,107.7 840,109 839.5,110.2C839,111.4 838.4,112.6 837.7,113.8C837,114.9 836,115.9 835.2,117C834.5,118.1 833.8,119.2 833.3,120.4C832.8,121.6 832.6,123.1 832.1,124.3C831.5,125.6 830.8,126.8 830.1,127.9C829.3,129 828.4,130.1 827.4,131.1C826.4,132.1 825.3,133 824.2,133.8C823,134.7 821.7,135.4 820.4,136C819.1,136.7 817.8,137.2 816.4,137.6C815,138 813.4,138.1 812,138.5C810.6,138.8 809.3,139 808,139.6C806.7,140.1 805.5,141.1 804.2,141.7C802.9,142.3 801.6,142.8 800.2,143.2C798.8,143.5 797.3,143.8 795.9,144C794.4,144.2 793,144.2 791.5,144.2C790,144.2 788.6,144 787.1,143.8C785.7,143.5 784.3,143.2 782.9,142.7C781.6,142.2 780.3,141.4 779,141C777.7,140.5 776.4,140 775,139.7C773.6,139.5 772,139.6 770.5,139.4C769.1,139.1 767.6,138.7 766.3,138.2C764.9,137.7 763.5,137.1 762.3,136.4C761,135.7 759.8,134.9 758.7,134C757.6,133.1 756.6,132.1 755.7,131C754.8,129.9 754,128.8 753.3,127.6C752.6,126.4 752.3,125 751.7,123.8C751.1,122.6 750.5,121.5 749.7,120.4C748.8,119.4 747.4,118.6 746.5,117.6C745.5,116.5 744.7,115.4 744,114.2C743.3,113 742.7,111.8 742.3,110.5C741.8,109.2 741.5,107.9 741.2,106.5C741,105.2 741,103.9 741,102.5C741.1,101.2 741.3,99.8 741.6,98.5C741.9,97.2 742.6,95.9 743,94.6C743.5,93.4 744.1,92.2 744.3,90.9C744.6,89.7 744.3,88.3 744.5,87.1C744.6,85.8 744.9,84.5 745.3,83.2C745.6,82 746.1,80.7 746.7,79.5C747.2,78.3 747.9,77.1 748.6,76C749.4,74.9 750.2,73.8 751.1,72.8C752,71.8 753,70.9 754.1,70C755.2,69.1 756.4,68.4 757.5,67.6C758.6,66.8 759.7,66.1 760.7,65.2C761.8,64.3 762.6,63.2 763.6,62.3C764.7,61.4 765.8,60.6 767,59.9C768.1,59.2 769.4,58.5 770.6,57.9C771.9,57.3 773.3,56.8 774.6,56.4C776,56 777.4,55.6 778.8,55.4C780.2,55.1 781.6,55 783,54.9C784.5,54.9 785.9,55.1 787.3,55C788.7,55 790.1,54.8 791.5,54.5C792.9,54.2 794.4,53.5 795.9,53.2C797.3,52.9 798.9,52.8 800.4,52.9C801.9,52.9 803.4,53 804.8,53.3C806.3,53.5 807.8,53.9 809.1,54.5C810.5,55 811.9,55.6 813.1,56.4C814.4,57.1 815.6,58 816.6,58.9C817.7,59.9 818.6,61.1 819.5,62.2C820.5,63.2 821.3,64.3 822.4,65.1C823.5,65.9 825,66.3 826.2,67C827.4,67.7 828.5,68.6 829.6,69.5C830.6,70.4 831.6,71.4 832.5,72.5C833.3,73.5 834.1,74.6 834.8,75.8C835.5,76.9 836.1,78.2 836.6,79.4C837.1,80.6 837.5,81.9 837.7,83.2C838,84.5 838,85.9 838.1,87.2C838.3,88.4 838.4,89.7 838.8,90.9C839.2,92.2 839.9,93.4 840.3,94.6C840.7,95.9 841,97.2 841.1,98.5Z" fill="#c8c9cb"/>
<path d="M762,66C759,60 759,54 761.8,50.6C764,56 769,61 776,63Z" fill="#e8262b" stroke="#222" stroke-width="0.9" stroke-linejoin="round"/>
<path d="M821.5,66C824,60 824,54 823,49.4C819,55 814,59 807.5,62Z" fill="#e8262b" stroke="#222" stroke-width="0.9" stroke-linejoin="round"/>
<path d="M767,108c2,-3 4,-3 3,1c-1,3 2,5 4,3" fill="none" stroke="#b0b1b3" stroke-width="1.6" stroke-linecap="round" stroke-linejoin="round"/>
<path d="M804,119c3,-3 6,-3 4,1c-2,3 -5,6 -3,7" fill="none" stroke="#b0b1b3" stroke-width="1.6" stroke-linecap="round" stroke-linejoin="round"/>
<path d="M781.5,74.5Q785,69.5 790,73.5Q789,77 785,76.8Q782,76.5 781.5,74.5Z" fill="#fff" stroke="#222" stroke-width="1"/>
<path d="M797.5,73.5Q802,69.5 806,74.5Q805,76.8 801.5,76.8Q798,76.5 797.5,73.5Z" fill="#fff" stroke="#222" stroke-width="1"/>
<circle cx="787" cy="75" r="1.5" fill="#222"/><circle cx="800.5" cy="75" r="1.5" fill="#222"/>
<path d="M794.5,91Q800,89.5 807,91L805,104Q803,110 799.5,110Q796,109 795.5,104Z" fill="#ee5a55" stroke="#222" stroke-width="1"/>
<path d="M769.5,86.5Q771,90 776,89.5Q781,88 784,90Q790,92.5 796,91.5Q803,90 808,90.5Q811,90 812.5,86.5" fill="none" stroke="#2b2b2b" stroke-width="1.1" stroke-linecap="round" stroke-linejoin="round"/>
<path d="M758,91C756.8,89.5 753.1,84.8 751,82C748.9,79.2 746.1,76 745.5,74.5C744.9,73 747.2,73.2 747.5,73" fill="none" stroke="#222" stroke-width="4.2" stroke-linecap="round" stroke-linejoin="round"/><path d="M758,91C756.8,89.5 753.1,84.8 751,82C748.9,79.2 746.1,76 745.5,74.5C744.9,73 747.2,73.2 747.5,73" fill="none" stroke="#fff" stroke-width="1.7" stroke-linecap="round" stroke-linejoin="round"/>
<path d="M823,90C823.3,88.3 823.8,82.8 825,80C826.2,77.2 828.8,74.3 830,73C831.2,71.7 832.1,72.2 832.5,72" fill="none" stroke="#222" stroke-width="4.2" stroke-linecap="round" stroke-linejoin="round"/><path d="M823,90C823.3,88.3 823.8,82.8 825,80C826.2,77.2 828.8,74.3 830,73C831.2,71.7 832.1,72.2 832.5,72" fill="none" stroke="#fff" stroke-width="1.7" stroke-linecap="round" stroke-linejoin="round"/>
<path d="M769,126.5C767,127.1 761,129 757,130C753,131 747.3,131.8 745,132.5C742.7,133.2 743.3,133.8 743,134" fill="none" stroke="#222" stroke-width="4.4" stroke-linecap="round" stroke-linejoin="round"/><path d="M769,126.5C767,127.1 761,129 757,130C753,131 747.3,131.8 745,132.5C742.7,133.2 743.3,133.8 743,134" fill="none" stroke="#fff" stroke-width="1.9" stroke-linecap="round" stroke-linejoin="round"/>
<path d="M819.5,127.5C818.8,129.2 816.2,134.9 815,138C813.8,141.1 812.7,144.2 812,146C811.3,147.8 811.2,148.1 811,148.5" fill="none" stroke="#222" stroke-width="4.4" stroke-linecap="round" stroke-linejoin="round"/><path d="M819.5,127.5C818.8,129.2 816.2,134.9 815,138C813.8,141.1 812.7,144.2 812,146C811.3,147.8 811.2,148.1 811,148.5" fill="none" stroke="#fff" stroke-width="1.9" stroke-linecap="round" stroke-linejoin="round"/>
<path d="M933,120C932.9,121.2 932.8,122.4 932.5,123.5C932.2,124.6 931.8,125.8 931.3,126.9C930.8,127.9 929.9,128.9 929.4,130C929,131 929.1,132.2 928.8,133.3C928.6,134.5 928.3,135.6 928,136.7C927.6,137.8 927.1,138.9 926.5,140C926,141 925.3,142 924.6,143C923.9,144 923,144.9 922.2,145.7C921.3,146.6 920.3,147.4 919.3,148.1C918.3,148.8 917.2,149.5 916.1,150.1C915,150.6 913.6,150.8 912.6,151.5C911.5,152.2 910.9,153.3 910,154.2C909.1,155 908.1,155.9 907,156.6C906,157.3 904.8,158 903.6,158.5C902.4,159 901.2,159.5 899.9,159.8C898.6,160.1 897.3,160.4 896,160.5C894.6,160.6 893.3,160.6 891.9,160.5C890.6,160.4 889.3,160.2 888,159.9C886.7,159.6 885.5,158.8 884.2,158.5C883,158.2 881.7,158.4 880.5,158.3C879.2,158.3 877.9,158.3 876.6,158.1C875.4,158 874.1,157.7 872.8,157.4C871.6,157.1 870.4,156.7 869.2,156.2C868,155.7 866.9,155.2 865.8,154.5C864.7,153.9 863.7,153.2 862.7,152.5C861.7,151.7 860.8,150.9 860,150C859.1,149.1 858.7,148 857.7,147.2C856.8,146.4 855.5,146 854.4,145.3C853.3,144.6 852.3,143.9 851.3,143.1C850.3,142.2 849.5,141.3 848.7,140.4C847.9,139.4 847.2,138.4 846.7,137.3C846.1,136.2 845.6,135.1 845.2,134C844.9,132.8 844.6,131.7 844.5,130.5C844.3,129.3 844.3,128.1 844.4,126.9C844.5,125.7 845.2,124.5 845.2,123.4C845.2,122.2 844.6,121.1 844.3,120C844.1,118.9 843.8,117.7 843.7,116.5C843.6,115.3 843.6,114.2 843.7,113C843.8,111.8 844,110.6 844.3,109.5C844.7,108.4 845.1,107.2 845.6,106.1C846.1,105.1 846.8,104 847.5,103C848.2,102 849,101.1 849.9,100.2C850.8,99.4 852,98.8 852.8,97.9C853.7,97 854.1,96 854.8,95C855.5,94 856.1,93 856.9,92.1C857.7,91.2 858.6,90.3 859.5,89.5C860.5,88.7 861.5,88 862.5,87.3C863.6,86.6 864.7,86 865.8,85.5C867,85 868.1,84.5 869.4,84.1C870.6,83.7 871.8,83.4 873.1,83.2C874.3,83 875.7,83.2 876.9,82.9C878.1,82.6 879.2,81.7 880.4,81.3C881.6,80.8 882.8,80.3 884.1,80C885.4,79.7 886.7,79.4 888,79.3C889.3,79.2 890.7,79.2 892,79.3C893.3,79.3 894.6,79.5 895.9,79.8C897.2,80.1 898.4,80.5 899.7,81C900.9,81.4 902,82 903.1,82.7C904.2,83.4 905.1,84.4 906.2,85C907.3,85.6 908.5,85.9 909.7,86.3C910.8,86.8 912,87.2 913.2,87.7C914.3,88.3 915.4,88.9 916.4,89.6C917.5,90.3 918.5,91 919.4,91.8C920.3,92.6 921.2,93.5 922,94.4C922.7,95.3 923.5,96.3 924.1,97.3C924.7,98.3 925.3,99.4 925.7,100.4C926.2,101.5 926.2,102.7 926.8,103.8C927.3,104.8 928.3,105.6 929,106.6C929.7,107.6 930.4,108.6 930.9,109.7C931.4,110.7 931.9,111.9 932.2,113C932.6,114.1 932.8,115.3 932.9,116.5C933.1,117.6 933.1,118.8 933,120Z" fill="#a9c9e0"/>
<path d="M862.5,91C859.5,85 859.5,80 861.4,77.3C864,82 868,86 873.2,87.5Z" fill="#e8262b" stroke="#222" stroke-width="0.9" stroke-linejoin="round"/>
<path d="M913.5,92C916,86 916.5,81 915.3,77.9C912,83 908,87 903.5,89Z" fill="#e8262b" stroke="#222" stroke-width="0.9" stroke-linejoin="round"/>
<path d="M866.5,131.5c3,-2 6,1 6,4c1,3 4,4 4,7" fill="none" stroke="#7aa4c2" stroke-width="1.8" stroke-linecap="round" stroke-linejoin="round"/>
<path d="M907.5,122c2,-1 4,1 3,4c-1,3 -3,4 -4,6" fill="none" stroke="#7aa4c2" stroke-width="1.8" stroke-linecap="round" stroke-linejoin="round"/>
<path d="M876,97.5Q880,94 883.5,96.5Q883,101 879.5,101Q877,100.5 876,97.5Z" fill="#fff" stroke="#222" stroke-width="1"/>
<path d="M890.5,96Q894,94 898,98.5Q896.5,101.5 893.5,101.3Q891,100.5 890.5,96Z" fill="#fff" stroke="#222" stroke-width="1"/>
<circle cx="881" cy="99" r="1.4" fill="#222"/><circle cx="893.5" cy="99" r="1.4" fill="#222"/>
<path d="M883,113Q891,106.5 902,110.5Q905,116 898,122.5Q893,127 889,124.5Q883,120 883,113Z" fill="#ee5a55" stroke="#222" stroke-width="1.1"/>
<path d="M871.5,118C869.9,117.8 865.1,116.8 862,116.5C858.9,116.2 854.5,116.1 853,116" fill="none" stroke="#222" stroke-width="4.4" stroke-linecap="round" stroke-linejoin="round"/><path d="M871.5,118C869.9,117.8 865.1,116.8 862,116.5C858.9,116.2 854.5,116.1 853,116" fill="none" stroke="#fff" stroke-width="1.9" stroke-linecap="round" stroke-linejoin="round"/>
<path d="M924,113C925.5,112.7 930.1,111.4 933,111C935.9,110.6 940.1,110.6 941.5,110.5" fill="none" stroke="#222" stroke-width="4.4" stroke-linecap="round" stroke-linejoin="round"/><path d="M924,113C925.5,112.7 930.1,111.4 933,111C935.9,110.6 940.1,110.6 941.5,110.5" fill="none" stroke="#fff" stroke-width="1.9" stroke-linecap="round" stroke-linejoin="round"/>
<path d="M869,148C867.8,148.7 864.5,151.2 862,152C859.5,152.8 855.7,152.3 854,152.5C852.3,152.7 852.3,152.9 852,153" fill="none" stroke="#222" stroke-width="4.4" stroke-linecap="round" stroke-linejoin="round"/><path d="M869,148C867.8,148.7 864.5,151.2 862,152C859.5,152.8 855.7,152.3 854,152.5C852.3,152.7 852.3,152.9 852,153" fill="none" stroke="#fff" stroke-width="1.9" stroke-linecap="round" stroke-linejoin="round"/>
<path d="M918,143C918.7,144.3 921.2,148.7 922,151C922.8,153.3 922.6,155.5 923,157C923.4,158.5 924.2,159.5 924.5,160" fill="none" stroke="#222" stroke-width="4.4" stroke-linecap="round" stroke-linejoin="round"/><path d="M918,143C918.7,144.3 921.2,148.7 922,151C922.8,153.3 922.6,155.5 923,157C923.4,158.5 924.2,159.5 924.5,160" fill="none" stroke="#fff" stroke-width="1.9" stroke-linecap="round" stroke-linejoin="round"/>
<path d="M659.6,502.5L665,508.5L669,505.5L664.6,498.7ZM665.1,508.7L670.6,514.5L674,511.5L668.9,505.3ZM658.9,500.6a3.1,3.1 0 1,0 6.3,0a3.1,3.1 0 1,0 -6.3,0ZM664.5,507a2.5,2.5 0 1,0 5,0a2.5,2.5 0 1,0 -5,0ZM670,513a2.3,2.3 0 1,0 4.6,0a2.3,2.3 0 1,0 -4.6,0ZM683.3,499.5L677.8,505.9L681.2,509.1L687.3,503.1ZM678.1,505.7L670.9,511.2L673.7,514.8L680.9,509.3ZM682.6,501.3a2.7,2.7 0 1,0 5.4,0a2.7,2.7 0 1,0 -5.4,0ZM677.2,507.5a2.3,2.3 0 1,0 4.6,0a2.3,2.3 0 1,0 -4.6,0ZM670,513a2.3,2.3 0 1,0 4.6,0a2.3,2.3 0 1,0 -4.6,0ZM670,513.1L670.5,521.1L674.9,520.9L674.6,512.9ZM670.5,521.1L670.7,527.6L675.3,527.4L674.9,520.9ZM670,513a2.3,2.3 0 1,0 4.6,0a2.3,2.3 0 1,0 -4.6,0ZM670.5,521a2.2,2.2 0 1,0 4.4,0a2.2,2.2 0 1,0 -4.4,0ZM670.7,527.5a2.3,2.3 0 1,0 4.6,0a2.3,2.3 0 1,0 -4.6,0Z" fill="#74c5a0"/>
<path d="M659.1,525.2L664.8,531.7L669.2,528.3L664.3,521.2ZM665,531.9L670.9,537.8L674.7,534.2L669,528.1ZM658.4,523.2a3.3,3.3 0 1,0 6.6,0a3.3,3.3 0 1,0 -6.6,0ZM664.2,530a2.8,2.8 0 1,0 5.5,0a2.8,2.8 0 1,0 -5.5,0ZM670.2,536a2.6,2.6 0 1,0 5.2,0a2.6,2.6 0 1,0 -5.2,0ZM683.3,521.6L677.2,528.3L680.8,531.7L687.3,525.4ZM677.3,528.2L671,534.1L674.6,537.9L680.7,531.8ZM682.5,523.5a2.8,2.8 0 1,0 5.6,0a2.8,2.8 0 1,0 -5.6,0ZM676.5,530a2.5,2.5 0 1,0 5,0a2.5,2.5 0 1,0 -5,0ZM670.2,536a2.6,2.6 0 1,0 5.2,0a2.6,2.6 0 1,0 -5.2,0ZM670.2,535.9L670.4,546L674.8,546L675.4,536.1ZM670.4,546.1L670.3,555.6L675.7,555.4L674.8,545.9ZM670.2,536a2.6,2.6 0 1,0 5.2,0a2.6,2.6 0 1,0 -5.2,0ZM670.3,546a2.2,2.2 0 1,0 4.5,0a2.2,2.2 0 1,0 -4.5,0ZM670.3,555.5a2.7,2.7 0 1,0 5.4,0a2.7,2.7 0 1,0 -5.4,0Z" fill="#1fb497"/>
<path d="M712.4,472.5L717.8,478.5L721.8,475.5L717.4,468.7ZM717.9,478.7L723.4,484.5L726.8,481.5L721.7,475.3ZM711.8,470.6a3.1,3.1 0 1,0 6.3,0a3.1,3.1 0 1,0 -6.3,0ZM717.3,477a2.5,2.5 0 1,0 5,0a2.5,2.5 0 1,0 -5,0ZM722.8,483a2.3,2.3 0 1,0 4.6,0a2.3,2.3 0 1,0 -4.6,0ZM736.1,469.5L730.6,475.9L734,479.1L740.1,473.1ZM730.9,475.7L723.7,481.2L726.5,484.8L733.7,479.3ZM735.4,471.3a2.7,2.7 0 1,0 5.4,0a2.7,2.7 0 1,0 -5.4,0ZM730,477.5a2.3,2.3 0 1,0 4.6,0a2.3,2.3 0 1,0 -4.6,0ZM722.8,483a2.3,2.3 0 1,0 4.6,0a2.3,2.3 0 1,0 -4.6,0ZM722.8,483.1L723.3,491.1L727.7,490.9L727.4,482.9ZM723.3,491.1L723.5,497.6L728.1,497.4L727.7,490.9ZM722.8,483a2.3,2.3 0 1,0 4.6,0a2.3,2.3 0 1,0 -4.6,0ZM723.3,491a2.2,2.2 0 1,0 4.4,0a2.2,2.2 0 1,0 -4.4,0ZM723.5,497.5a2.3,2.3 0 1,0 4.6,0a2.3,2.3 0 1,0 -4.6,0Z" fill="#74c5a0"/>
<path d="M711.9,495.2L717.6,501.7L722,498.3L717.1,491.2ZM717.8,501.9L723.7,507.8L727.5,504.2L721.8,498.1ZM711.2,493.2a3.3,3.3 0 1,0 6.6,0a3.3,3.3 0 1,0 -6.6,0ZM717.1,500a2.8,2.8 0 1,0 5.5,0a2.8,2.8 0 1,0 -5.5,0ZM723,506a2.6,2.6 0 1,0 5.2,0a2.6,2.6 0 1,0 -5.2,0ZM736.1,491.6L730,498.3L733.6,501.7L740.1,495.4ZM730.1,498.2L723.8,504.1L727.4,507.9L733.5,501.8ZM735.3,493.5a2.8,2.8 0 1,0 5.6,0a2.8,2.8 0 1,0 -5.6,0ZM729.3,500a2.5,2.5 0 1,0 5,0a2.5,2.5 0 1,0 -5,0ZM723,506a2.6,2.6 0 1,0 5.2,0a2.6,2.6 0 1,0 -5.2,0ZM723,505.9L723.2,516L727.6,516L728.2,506.1ZM723.2,516.1L723.1,525.6L728.5,525.4L727.6,515.9ZM723,506a2.6,2.6 0 1,0 5.2,0a2.6,2.6 0 1,0 -5.2,0ZM723.1,516a2.2,2.2 0 1,0 4.5,0a2.2,2.2 0 1,0 -4.5,0ZM723.1,525.5a2.7,2.7 0 1,0 5.4,0a2.7,2.7 0 1,0 -5.4,0Z" fill="#1fb497"/>
<path d="M765.8,495.2L771.2,501.2L775.2,498.2L770.8,491.4ZM771.3,501.4L776.8,507.2L780.2,504.2L775.1,498ZM765.1,493.3a3.1,3.1 0 1,0 6.3,0a3.1,3.1 0 1,0 -6.3,0ZM770.7,499.7a2.5,2.5 0 1,0 5,0a2.5,2.5 0 1,0 -5,0ZM776.2,505.7a2.3,2.3 0 1,0 4.6,0a2.3,2.3 0 1,0 -4.6,0ZM789.5,492.2L784,498.6L787.4,501.8L793.5,495.8ZM784.3,498.4L777.1,503.9L779.9,507.5L787.1,502ZM788.8,494a2.7,2.7 0 1,0 5.4,0a2.7,2.7 0 1,0 -5.4,0ZM783.4,500.2a2.3,2.3 0 1,0 4.6,0a2.3,2.3 0 1,0 -4.6,0ZM776.2,505.7a2.3,2.3 0 1,0 4.6,0a2.3,2.3 0 1,0 -4.6,0ZM776.2,505.8L776.7,513.8L781.1,513.6L780.8,505.6ZM776.7,513.8L776.9,520.3L781.5,520.1L781.1,513.6ZM776.2,505.7a2.3,2.3 0 1,0 4.6,0a2.3,2.3 0 1,0 -4.6,0ZM776.7,513.7a2.2,2.2 0 1,0 4.4,0a2.2,2.2 0 1,0 -4.4,0ZM776.9,520.2a2.3,2.3 0 1,0 4.6,0a2.3,2.3 0 1,0 -4.6,0Z" fill="#74c5a0"/>
<path d="M765.3,517.9L771,524.4L775.4,521L770.5,513.9ZM771.2,524.6L777.1,530.5L780.9,526.9L775.2,520.8ZM764.6,515.9a3.3,3.3 0 1,0 6.6,0a3.3,3.3 0 1,0 -6.6,0ZM770.5,522.7a2.8,2.8 0 1,0 5.5,0a2.8,2.8 0 1,0 -5.5,0ZM776.4,528.7a2.6,2.6 0 1,0 5.2,0a2.6,2.6 0 1,0 -5.2,0ZM789.5,514.3L783.4,521L787,524.4L793.5,518.1ZM783.5,520.9L777.2,526.8L780.8,530.6L786.9,524.5ZM788.7,516.2a2.8,2.8 0 1,0 5.6,0a2.8,2.8 0 1,0 -5.6,0ZM782.7,522.7a2.5,2.5 0 1,0 5,0a2.5,2.5 0 1,0 -5,0ZM776.4,528.7a2.6,2.6 0 1,0 5.2,0a2.6,2.6 0 1,0 -5.2,0ZM776.4,528.6L776.6,538.7L781,538.7L781.6,528.8ZM776.6,538.8L776.5,548.3L781.9,548.1L781,538.6ZM776.4,528.7a2.6,2.6 0 1,0 5.2,0a2.6,2.6 0 1,0 -5.2,0ZM776.5,538.7a2.2,2.2 0 1,0 4.5,0a2.2,2.2 0 1,0 -4.5,0ZM776.5,548.2a2.7,2.7 0 1,0 5.4,0a2.7,2.7 0 1,0 -5.4,0Z" fill="#1fb497"/>
<path d="M862.3,236L867.3,241.6L871,238.8L866.9,232.5ZM867.4,241.8L872.5,247.2L875.7,244.4L870.9,238.7ZM861.7,234.3a2.9,2.9 0 1,0 5.9,0a2.9,2.9 0 1,0 -5.9,0ZM866.8,240.2a2.3,2.3 0 1,0 4.7,0a2.3,2.3 0 1,0 -4.7,0ZM872,245.8a2.1,2.1 0 1,0 4.3,0a2.1,2.1 0 1,0 -4.3,0ZM884.4,233.2L879.2,239.2L882.4,242.1L888,236.6ZM879.5,239L872.8,244.1L875.4,247.5L882.1,242.4ZM883.7,234.9a2.5,2.5 0 1,0 5,0a2.5,2.5 0 1,0 -5,0ZM878.7,240.7a2.1,2.1 0 1,0 4.3,0a2.1,2.1 0 1,0 -4.3,0ZM872,245.8a2.1,2.1 0 1,0 4.3,0a2.1,2.1 0 1,0 -4.3,0ZM872,245.9L872.4,253.3L876.5,253.1L876.2,245.7ZM872.4,253.3L872.6,259.4L876.9,259.2L876.5,253.1ZM872,245.8a2.1,2.1 0 1,0 4.3,0a2.1,2.1 0 1,0 -4.3,0ZM872.4,253.2a2,2 0 1,0 4.1,0a2,2 0 1,0 -4.1,0ZM872.6,259.3a2.1,2.1 0 1,0 4.3,0a2.1,2.1 0 1,0 -4.3,0Z" fill="#74c5a0"/>
<path d="M861.8,257.2L867.2,263.2L871.2,260L866.7,253.4ZM867.3,263.4L872.8,268.9L876.3,265.5L871,259.8ZM861.2,255.3a3.1,3.1 0 1,0 6.1,0a3.1,3.1 0 1,0 -6.1,0ZM866.6,261.6a2.6,2.6 0 1,0 5.1,0a2.6,2.6 0 1,0 -5.1,0ZM872.1,267.2a2.4,2.4 0 1,0 4.8,0a2.4,2.4 0 1,0 -4.8,0ZM884.3,253.8L878.7,260L882,263.2L888.1,257.4ZM878.7,259.9L872.9,265.5L876.2,268.9L881.9,263.3ZM883.6,255.6a2.6,2.6 0 1,0 5.2,0a2.6,2.6 0 1,0 -5.2,0ZM878,261.6a2.3,2.3 0 1,0 4.7,0a2.3,2.3 0 1,0 -4.7,0ZM872.1,267.2a2.4,2.4 0 1,0 4.8,0a2.4,2.4 0 1,0 -4.8,0ZM872.1,267.1L872.3,276.4L876.5,276.5L877,267.2ZM872.3,276.6L872.2,285.4L877.3,285.2L876.5,276.4ZM872.1,267.2a2.4,2.4 0 1,0 4.8,0a2.4,2.4 0 1,0 -4.8,0ZM872.3,276.5a2.1,2.1 0 1,0 4.2,0a2.1,2.1 0 1,0 -4.2,0ZM872.2,285.3a2.5,2.5 0 1,0 5,0a2.5,2.5 0 1,0 -5,0Z" fill="#1fb497"/>
<path d="M907.9,208.6L912.9,214.2L916.6,211.4L912.5,205.1ZM913,214.4L918.1,219.8L921.3,217L916.5,211.3ZM907.3,206.9a2.9,2.9 0 1,0 5.9,0a2.9,2.9 0 1,0 -5.9,0ZM912.4,212.8a2.3,2.3 0 1,0 4.7,0a2.3,2.3 0 1,0 -4.7,0ZM917.6,218.4a2.1,2.1 0 1,0 4.3,0a2.1,2.1 0 1,0 -4.3,0ZM930,205.8L924.8,211.8L928,214.7L933.6,209.2ZM925.1,211.6L918.4,216.7L921,220.1L927.7,215ZM929.3,207.5a2.5,2.5 0 1,0 5,0a2.5,2.5 0 1,0 -5,0ZM924.3,213.3a2.1,2.1 0 1,0 4.3,0a2.1,2.1 0 1,0 -4.3,0ZM917.6,218.4a2.1,2.1 0 1,0 4.3,0a2.1,2.1 0 1,0 -4.3,0ZM917.6,218.5L918,225.9L922.1,225.7L921.8,218.3ZM918,225.9L918.2,232L922.5,231.8L922.1,225.7ZM917.6,218.4a2.1,2.1 0 1,0 4.3,0a2.1,2.1 0 1,0 -4.3,0ZM918,225.8a2,2 0 1,0 4.1,0a2,2 0 1,0 -4.1,0ZM918.2,231.9a2.1,2.1 0 1,0 4.3,0a2.1,2.1 0 1,0 -4.3,0Z" fill="#74c5a0"/>
<path d="M907.4,229.8L912.8,235.8L916.8,232.6L912.3,226ZM912.9,236L918.4,241.5L921.9,238.1L916.6,232.4ZM906.8,227.9a3.1,3.1 0 1,0 6.1,0a3.1,3.1 0 1,0 -6.1,0ZM912.2,234.2a2.6,2.6 0 1,0 5.1,0a2.6,2.6 0 1,0 -5.1,0ZM917.7,239.8a2.4,2.4 0 1,0 4.8,0a2.4,2.4 0 1,0 -4.8,0ZM929.9,226.4L924.3,232.6L927.6,235.8L933.7,230ZM924.3,232.5L918.5,238.1L921.8,241.5L927.5,235.9ZM929.2,228.2a2.6,2.6 0 1,0 5.2,0a2.6,2.6 0 1,0 -5.2,0ZM923.6,234.2a2.3,2.3 0 1,0 4.7,0a2.3,2.3 0 1,0 -4.7,0ZM917.7,239.8a2.4,2.4 0 1,0 4.8,0a2.4,2.4 0 1,0 -4.8,0ZM917.7,239.7L917.9,249L922.1,249.1L922.6,239.8ZM917.9,249.2L917.8,258L922.9,257.8L922.1,249ZM917.7,239.8a2.4,2.4 0 1,0 4.8,0a2.4,2.4 0 1,0 -4.8,0ZM917.9,249.1a2.1,2.1 0 1,0 4.2,0a2.1,2.1 0 1,0 -4.2,0ZM917.8,257.9a2.5,2.5 0 1,0 5,0a2.5,2.5 0 1,0 -5,0Z" fill="#1fb497"/>
<circle cx="401" cy="634.7" r="34" fill="#fcdcc6"/>
<circle cx="401" cy="634.7" r="29.6" fill="#f9c59c"/>
<circle cx="401.1" cy="644" r="14" fill="#f3877f"/>
<circle cx="474.5" cy="599.5" r="35.5" fill="#fcdcc6"/>
<circle cx="474.5" cy="599.5" r="30.9" fill="#f9c59c"/>
<circle cx="474.1" cy="609.8" r="14" fill="#f3877f"/>
<circle cx="540" cy="629.7" r="25.5" fill="#fcdcc6"/>
<circle cx="540" cy="629.7" r="22.2" fill="#f9c59c"/>
<circle cx="539.5" cy="637.3" r="10" fill="#f3877f"/>
<path d="M391.5,617.5q1.5,-1.5 3,0 M414,616q1.5,-1.5 3,0" fill="none" stroke="#2b2b2b" stroke-width="1.1" stroke-linecap="round" stroke-linejoin="round"/>
<path d="M400.5,621.5q4,4 8,0" fill="none" stroke="#2b2b2b" stroke-width="1.2" stroke-linecap="round" stroke-linejoin="round"/>
<path d="M465.5,583.5q1.5,-1.5 3,0 M487,581.5q1.5,-1.5 3,0" fill="none" stroke="#2b2b2b" stroke-width="1.1" stroke-linecap="round" stroke-linejoin="round"/>
<path d="M472,587Q478,585.5 483.5,586Q483,592.5 477.5,592.5Q473,592 472,587Z" fill="#e11d5f" stroke="#222" stroke-width="0.9"/>
<path d="M531.5,621q1.5,-1.5 3,0 M547,620q1.5,-1.5 3,0" fill="none" stroke="#2b2b2b" stroke-width="1.1" stroke-linecap="round" stroke-linejoin="round"/>
<path d="M535.5,624.5q5.5,4 11,0" fill="none" stroke="#2b2b2b" stroke-width="1.2" stroke-linecap="round" stroke-linejoin="round"/>
<path d="M371,634.5C369.7,634.9 365.2,635.8 363,637C360.8,638.2 358.4,640.8 357.5,641.5" fill="none" stroke="#222" stroke-width="4" stroke-linecap="round" stroke-linejoin="round"/><path d="M371,634.5C369.7,634.9 365.2,635.8 363,637C360.8,638.2 358.4,640.8 357.5,641.5" fill="none" stroke="#fff" stroke-width="1.5" stroke-linecap="round" stroke-linejoin="round"/>
<path d="M431,636C432.5,636.6 437.1,638.5 440,639.5C442.9,640.5 447.1,641.6 448.5,642" fill="none" stroke="#222" stroke-width="4" stroke-linecap="round" stroke-linejoin="round"/><path d="M431,636C432.5,636.6 437.1,638.5 440,639.5C442.9,640.5 447.1,641.6 448.5,642" fill="none" stroke="#fff" stroke-width="1.5" stroke-linecap="round" stroke-linejoin="round"/>
<path d="M451.5,582C451.6,580.3 451.1,574.8 451.8,572C452.5,569.2 454.9,566.2 455.5,565" fill="none" stroke="#222" stroke-width="3.9" stroke-linecap="round" stroke-linejoin="round"/><path d="M451.5,582C451.6,580.3 451.1,574.8 451.8,572C452.5,569.2 454.9,566.2 455.5,565" fill="none" stroke="#fff" stroke-width="1.4" stroke-linecap="round" stroke-linejoin="round"/>
<path d="M499.5,582C499.5,580.3 499.9,574.8 499.5,572C499.1,569.2 497.2,566.2 496.8,565" fill="none" stroke="#222" stroke-width="3.9" stroke-linecap="round" stroke-linejoin="round"/><path d="M499.5,582C499.5,580.3 499.9,574.8 499.5,572C499.1,569.2 497.2,566.2 496.8,565" fill="none" stroke="#fff" stroke-width="1.4" stroke-linecap="round" stroke-linejoin="round"/>
<path d="M516,635C515.2,635.7 512.6,637.6 511.5,639C510.4,640.4 509.8,642.8 509.5,643.5" fill="none" stroke="#222" stroke-width="3.9" stroke-linecap="round" stroke-linejoin="round"/><path d="M516,635C515.2,635.7 512.6,637.6 511.5,639C510.4,640.4 509.8,642.8 509.5,643.5" fill="none" stroke="#fff" stroke-width="1.4" stroke-linecap="round" stroke-linejoin="round"/>
<path d="M563,625C564.2,625.1 567.9,625.2 570,625.5C572.1,625.8 574.6,626.8 575.5,627" fill="none" stroke="#222" stroke-width="3.9" stroke-linecap="round" stroke-linejoin="round"/><path d="M563,625C564.2,625.1 567.9,625.2 570,625.5C572.1,625.8 574.6,626.8 575.5,627" fill="none" stroke="#fff" stroke-width="1.4" stroke-linecap="round" stroke-linejoin="round"/>
<use href="#tcell" transform="translate(743.7,607) scale(0.86,0.817)"/>
<use href="#tcell" transform="translate(834.3,681.5) scale(0.93,0.883)"/>
<use href="#tcell" transform="translate(675,748.6) scale(1.0,0.950)"/>
<use href="#tcell" transform="translate(925,774.5) scale(1.01,0.959)"/>
<use href="#tcell" transform="translate(960.7,279.2) scale(0.68,0.646)"/>
<use href="#tcell" transform="translate(889.4,344) scale(0.68,0.646)"/>
<path d="M460.3,77.9C520,57 600,43 669.8,58.1" fill="none" stroke="#2a2a2a" stroke-width="1.25" stroke-linecap="round"/>
<path d="M663.5,50L669.8,58.1L662.2,65.2" fill="none" stroke="#2a2a2a" stroke-width="1.25" stroke-linecap="round" stroke-linejoin="round"/>
<path d="M269.5,207.8Q212.1,275.5 202.2,349.3" fill="none" stroke="#2a2a2a" stroke-width="1.25" stroke-linecap="round"/>
<path d="M196.1,342L202.2,349.3L211.7,345" fill="none" stroke="#2a2a2a" stroke-width="1.25" stroke-linecap="round" stroke-linejoin="round"/>
<path d="M223.2,515.2L208.4,556.3" fill="none" stroke="#2a2a2a" stroke-width="1.25" stroke-linecap="round"/>
<path d="M203.4,548.7L208.4,556.3L218.6,552.8" fill="none" stroke="#2a2a2a" stroke-width="1.25" stroke-linecap="round" stroke-linejoin="round"/>
<path d="M274.9,610.4L348,610.4" fill="none" stroke="#2a2a2a" stroke-width="1.25" stroke-linecap="round"/>
<path d="M341.3,602.5L348,610.4L341.3,618" fill="none" stroke="#2a2a2a" stroke-width="1.25" stroke-linecap="round" stroke-linejoin="round"/>
<path d="M270,668.5L341.3,682.8" fill="none" stroke="#2a2a2a" stroke-width="1.25" stroke-linecap="round"/>
<path d="M334.7,674.5L341.3,682.8L335.7,689.5" fill="none" stroke="#2a2a2a" stroke-width="1.25" stroke-linecap="round" stroke-linejoin="round"/>
<path d="M364.6,689.5L530.6,722.7" fill="none" stroke="#2a2a2a" stroke-width="1.25" stroke-linecap="round"/>
<path d="M524,714.4L530.6,722.7L522.3,730.3" fill="none" stroke="#2a2a2a" stroke-width="1.25" stroke-linecap="round" stroke-linejoin="round"/>
<path d="M571,608L658.9,554.7" fill="none" stroke="#2a2a2a" stroke-width="1.25" stroke-linecap="round"/>
<path d="M649,553.7L658.9,554.7L658.2,565.3" fill="none" stroke="#2a2a2a" stroke-width="1.25" stroke-linecap="round" stroke-linejoin="round"/>
<path d="M907.4,570.6C931,505 942,440 938.1,382.5" fill="none" stroke="#2a2a2a" stroke-width="1.25" stroke-linecap="round"/>
<path d="M930.1,389.4L938.1,382.5L946.1,387.1" fill="none" stroke="#2a2a2a" stroke-width="1.25" stroke-linecap="round" stroke-linejoin="round"/>
<text x="207.9" y="173.7" font-size="17.8" font-weight="bold" fill="#555657" textLength="152.4" lengthAdjust="spacingAndGlyphs">INNATE IMMUNE</text>
<text x="245.3" y="194.3" font-size="17.8" font-weight="bold" fill="#555657" textLength="77.3" lengthAdjust="spacingAndGlyphs">SYSTEM</text>
<text x="109.2" y="375.4" font-size="17.8" font-weight="bold" fill="#555657" textLength="178.3" lengthAdjust="spacingAndGlyphs">ADAPTIVE IMMUNE</text>
<text x="159.6" y="396.3" font-size="17.8" font-weight="bold" fill="#555657" textLength="77.4" lengthAdjust="spacingAndGlyphs">SYSTEM</text>
<text x="414.4" y="128.1" font-size="16" font-weight="bold" fill="#555657" textLength="104.4" lengthAdjust="spacingAndGlyphs">NEUTROPHIL</text>
<text x="329" y="324.1" font-size="16" font-weight="bold" fill="#555657" textLength="129.3" lengthAdjust="spacingAndGlyphs">DENDRITIC CELL</text>
<text x="504" y="328.8" font-size="16" font-weight="bold" fill="#555657" textLength="75.2" lengthAdjust="spacingAndGlyphs">NATURAL</text>
<text x="492.2" y="346.6" font-size="16" font-weight="bold" fill="#555657" textLength="98.8" lengthAdjust="spacingAndGlyphs">KILLER CELL</text>
<text x="633.8" y="379.6" font-size="16" font-weight="bold" fill="#555657" textLength="113.2" lengthAdjust="spacingAndGlyphs">MACROPHAGE</text>
<text x="680.1" y="458.7" font-size="16" font-weight="bold" fill="#555657" textLength="95.5" lengthAdjust="spacingAndGlyphs">ANTIBODIES</text>
<text x="300.8" y="490.8" font-size="16" font-weight="bold" fill="#555657" textLength="129.7" lengthAdjust="spacingAndGlyphs">DENDRITIC CELL</text>
<text x="448.7" y="666.9" font-size="16" font-weight="bold" fill="#555657" textLength="64.2" lengthAdjust="spacingAndGlyphs">B CELLS</text>
<text x="760.8" y="759.7" font-size="16" font-weight="bold" fill="#555657" textLength="62.5" lengthAdjust="spacingAndGlyphs">T CELLS</text>
<text x="453.4" y="41.6" font-size="16" fill="#5b5c5e" textLength="185.5" lengthAdjust="spacingAndGlyphs">ATTACK CANCER CELLS</text>
<text x="835.1" y="63.4" font-size="16" fill="#5b5c5e" textLength="118.7" lengthAdjust="spacingAndGlyphs">CANCER CELLS</text>
<text x="800.9" y="454.6" font-size="16" fill="#5b5c5e" textLength="128.7" lengthAdjust="spacingAndGlyphs">CONCENTRATED</text>
<text x="820" y="473.6" font-size="16" fill="#5b5c5e" textLength="90.2" lengthAdjust="spacingAndGlyphs">ATTACK ON</text>
<text x="805.6" y="491.8" font-size="16" fill="#5b5c5e" textLength="119.5" lengthAdjust="spacingAndGlyphs">CANCER CELLS</text>
<text x="238.3" y="539.1" font-size="16" fill="#5b5c5e" textLength="91.1" lengthAdjust="spacingAndGlyphs">MOVING TO</text>
<text x="227.1" y="557.6" font-size="16" fill="#5b5c5e" textLength="114" lengthAdjust="spacingAndGlyphs">LYMPH NODES</text>
<text x="525.4" y="577.6" font-size="16" fill="#5b5c5e" textLength="86.5" lengthAdjust="spacingAndGlyphs">PRODUCES</text>
<text x="391.5" y="685.5" font-size="16" fill="#5b5c5e" textLength="178.2" lengthAdjust="spacingAndGlyphs">(HUMORAL IMMUNITY)</text>
<text x="328.5" y="728.3" font-size="16" fill="#5b5c5e" textLength="121.3" lengthAdjust="spacingAndGlyphs">ACTIVATION OF</text>
<text x="347.4" y="746.9" font-size="16" fill="#5b5c5e" textLength="84.2" lengthAdjust="spacingAndGlyphs">T&amp;B CELLS</text>
<text x="53.8" y="852.7" font-size="16" fill="#5b5c5e" textLength="442" lengthAdjust="spacingAndGlyphs">DENDRITIC CELLS TEACH LYMPHOCYTES TO RECOGNIZE</text>
<text x="53.8" y="870.9" font-size="16" fill="#5b5c5e" textLength="442" lengthAdjust="spacingAndGlyphs">CANCER CELLS OR INVADERS. THESE LYMPHOCYTES ARE</text>
<text x="67.2" y="889.7" font-size="16" fill="#5b5c5e" textLength="414.2" lengthAdjust="spacingAndGlyphs">THEN CAPABLE OF MOUNTING A POWERFUL ATTACK.</text>
<text x="641.3" y="871.7" font-size="16" fill="#5b5c5e" textLength="343.6" lengthAdjust="spacingAndGlyphs">LARGE NUMBER OF LYMPHOCYTE SOLDIERS</text>
<text x="700.6" y="889.7" font-size="16" fill="#5b5c5e" textLength="223.6" lengthAdjust="spacingAndGlyphs">(CELL-MEDIATED IMMUNITY)</text>
</svg>
</body></html>
